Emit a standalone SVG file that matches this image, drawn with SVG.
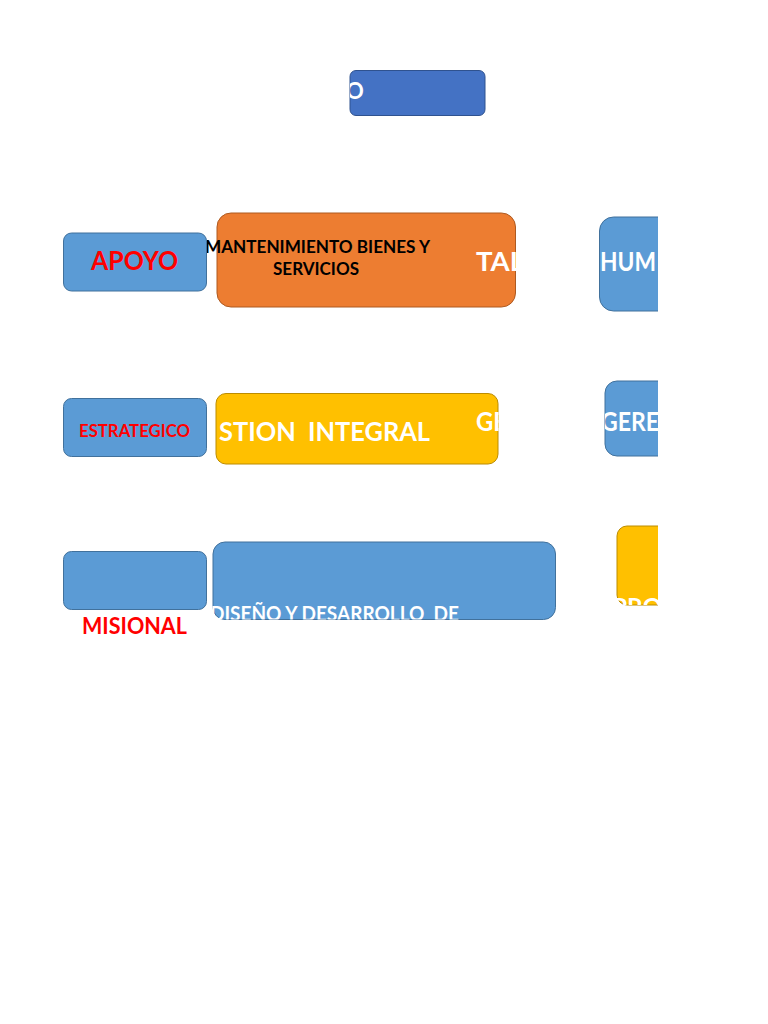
<svg xmlns="http://www.w3.org/2000/svg" width="768" height="1024" viewBox="0 0 768 1024">
<style>
.blue{fill:#5B9BD5;stroke:#41719C;stroke-width:1}
.dblue{fill:#4472C4;stroke:#2F528F;stroke-width:1}
.orange{fill:#ED7D31;stroke:#AE5A21;stroke-width:1}
.gold{fill:#FFC000;stroke:#BC8C00;stroke-width:1}
text{font-family:Lato,"Open Sans","Liberation Sans",sans-serif;font-weight:bold;white-space:pre}
.w{fill:#FFFFFF}
.r{fill:#FF0000}
.k{fill:#000000}
</style>
<defs>
<clipPath id="page"><rect x="0" y="0" width="658" height="1024"/></clipPath>
<clipPath id="cTop"><rect x="350" y="70" width="135" height="45"/></clipPath>
<clipPath id="cOrange"><rect x="217" y="213" width="299" height="94"/></clipPath>
<clipPath id="cMant"><rect x="207" y="200" width="400" height="100"/></clipPath>
<clipPath id="cR1"><rect x="600" y="217" width="58" height="94"/></clipPath>
<clipPath id="cGold"><rect x="216" y="393" width="282.5" height="71"/></clipPath>
<clipPath id="cR2"><rect x="605" y="381" width="53" height="75"/></clipPath>
<clipPath id="cBig"><rect x="212.5" y="542" width="343" height="77.5"/></clipPath>
<clipPath id="cR3"><rect x="617" y="526" width="41" height="79"/></clipPath>
</defs>
<rect width="768" height="1024" fill="#FFFFFF"/>
<g clip-path="url(#page)">
<g id="node-top">
<rect class="dblue" x="350" y="70.5" width="135" height="45" rx="6"/>
<text class="w" x="346" y="99" font-size="22" clip-path="url(#cTop)">O</text>
</g>
<g id="node-apoyo">
<rect class="blue" x="63.5" y="233" width="143" height="58" rx="8"/>
<text class="r" x="134.5" y="270" font-size="27" text-anchor="middle" textLength="87" lengthAdjust="spacingAndGlyphs">APOYO</text>
</g>
<g id="node-mantenimiento">
<rect class="orange" x="217" y="213" width="298.5" height="94" rx="14"/>
<g clip-path="url(#cMant)">
<text class="k" x="205" y="253" font-size="16.5" textLength="225" lengthAdjust="spacingAndGlyphs">MANTENIMIENTO BIENES Y</text>
</g>
<text class="k" x="316" y="275" font-size="16.5" text-anchor="middle" textLength="86" lengthAdjust="spacingAndGlyphs">SERVICIOS</text>
<text class="w" x="476" y="271" font-size="26" clip-path="url(#cOrange)" textLength="48" lengthAdjust="spacingAndGlyphs">TAL</text>
</g>
<g id="node-talento">
<rect class="blue" x="599.5" y="217" width="80" height="94" rx="14"/>
<text class="w" x="600" y="271" font-size="26" clip-path="url(#cR1)" textLength="56" lengthAdjust="spacingAndGlyphs">HUM</text>
</g>
<g id="node-estrategico">
<rect class="blue" x="63.5" y="398.5" width="143" height="58" rx="8"/>
<text class="r" x="134.5" y="437" font-size="16.5" text-anchor="middle" textLength="111" lengthAdjust="spacingAndGlyphs">ESTRATEGICO</text>
</g>
<g id="node-gestion">
<rect class="gold" x="216" y="393.5" width="282" height="70.5" rx="10"/>
<text class="w" x="219" y="441" font-size="27" textLength="211" lengthAdjust="spacingAndGlyphs">STION  INTEGRAL</text>
<text class="w" x="476" y="431" font-size="26" clip-path="url(#cGold)" textLength="31" lengthAdjust="spacingAndGlyphs">GE</text>
</g>
<g id="node-gerencia">
<rect class="blue" x="605" y="381" width="80" height="75" rx="12"/>
<text class="w" x="601" y="431" font-size="26" clip-path="url(#cR2)" textLength="58" lengthAdjust="spacingAndGlyphs">GERE</text>
</g>
<g id="node-misional">
<rect class="blue" x="63.5" y="551.5" width="143" height="58" rx="8"/>
<text class="r" x="134.5" y="634" font-size="23" text-anchor="middle" textLength="105" lengthAdjust="spacingAndGlyphs">MISIONAL</text>
</g>
<g id="node-diseno">
<rect class="blue" x="213" y="542" width="342.5" height="77.5" rx="12"/>
<text class="w" x="210" y="621" font-size="20" clip-path="url(#cBig)" textLength="249" lengthAdjust="spacingAndGlyphs">DISEÑO Y DESARROLLO  DE</text>
</g>
<g id="node-pro">
<rect class="gold" x="617" y="526" width="80" height="79" rx="10"/>
<text class="w" x="612" y="616" font-size="24" clip-path="url(#cR3)" textLength="50" lengthAdjust="spacingAndGlyphs">PRO</text>
</g>
<g id="connectors"></g>
</g>
</svg>
